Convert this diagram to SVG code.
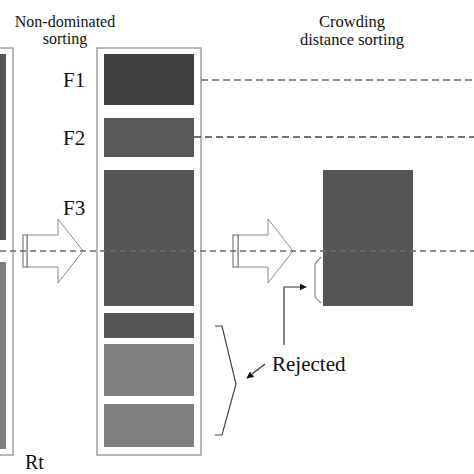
<svg xmlns="http://www.w3.org/2000/svg" width="474" height="474" viewBox="0 0 474 474">
<style>
.frame{fill:#fff;stroke:#a0a0a0;stroke-width:1.5}
.dk{fill:#555}
.lt{fill:#7f7f7f}
.dash{stroke:#6a6a6a;stroke-width:1.3;stroke-dasharray:7 4;fill:none}
.hollow{fill:#fff;stroke:#8a8a8a;stroke-width:1}
.ln{fill:none;stroke:#333;stroke-width:1.2}
.br{fill:none;stroke:#444;stroke-width:1.2}
.t{font-family:'Liberation Serif','DejaVu Serif','Times New Roman',Times,serif;fill:#111}
</style>
<defs>
<marker id="ah" viewBox="0 0 10 10" refX="9" refY="5" markerWidth="7" markerHeight="7" orient="auto" markerUnits="userSpaceOnUse">
<path d="M0,0 L10,5 L0,10 z" fill="#111"/>
</marker>
</defs>
<g id="rt-column">
<rect class="frame" x="-5" y="48" width="18" height="407"/>
<rect class="dk" x="0" y="54" width="6" height="186"/>
<rect class="lt" x="0" y="262" width="6" height="187"/>
<text class="t" x="25" y="469" font-size="20">Rt</text>
</g>
<g id="nds-column">
<text class="t" x="65" y="27" font-size="16" text-anchor="middle">Non-dominated</text>
<text class="t" x="65" y="44" font-size="16" text-anchor="middle">sorting</text>
<rect class="frame" x="97" y="48" width="104" height="407"/>
<rect x="104" y="54" width="90" height="51" fill="#404040"/>
<rect x="104" y="118" width="90" height="39" fill="#585858"/>
<rect class="dk" x="104" y="170" width="90" height="136"/>
<rect class="dk" x="104" y="313" width="90" height="25"/>
<rect class="lt" x="104" y="344" width="90" height="52"/>
<rect class="lt" x="104" y="404" width="90" height="43"/>
<text class="t" x="63" y="87" font-size="21">F1</text>
<text class="t" x="63" y="145" font-size="21">F2</text>
<text class="t" x="63" y="215" font-size="21">F3</text>
</g>
<g id="crowding">
<text class="t" x="352" y="27" font-size="16.5" text-anchor="middle">Crowding</text>
<text class="t" x="352" y="45" font-size="16.5" text-anchor="middle">distance sorting</text>
<rect class="dk" x="323" y="170" width="90" height="136"/>
</g>
<g id="rejected">
<text class="t" x="272" y="371" font-size="21">Rejected</text>
</g>
<g id="connectors">
<line class="dash" x1="201" y1="80" x2="474" y2="80"/>
<line class="dash" x1="194" y1="137" x2="474" y2="137" style="stroke:#444"/>
<g id="arrow1">
<path class="hollow" d="M27,235 H58 V219 L83,251 L58,283 V267 H27 Z"/>
<rect x="23" y="235" width="4" height="32" fill="#fff" stroke="#666" stroke-width="1"/>
</g>
<g id="arrow2">
<path class="hollow" d="M238,235 H268 V219 L293,251 L268,283 V267 H238 Z"/>
<rect x="233" y="235" width="5" height="32" fill="#fff" stroke="#666" stroke-width="1"/>
</g>
<line class="dash" x1="0" y1="251" x2="474" y2="251" style="stroke-dasharray:6 4"/>
<path d="M321,257 L315,264 V297 L321,303" fill="none" stroke="#888" stroke-width="1.2"/>
<path class="ln" d="M284,345 V287 H306" marker-end="url(#ah)"/>
<path class="br" d="M215,326 H222 L236,384 L222,435 H215"/>
<line class="ln" x1="265" y1="364" x2="247" y2="378" marker-end="url(#ah)"/>
</g>
</svg>
